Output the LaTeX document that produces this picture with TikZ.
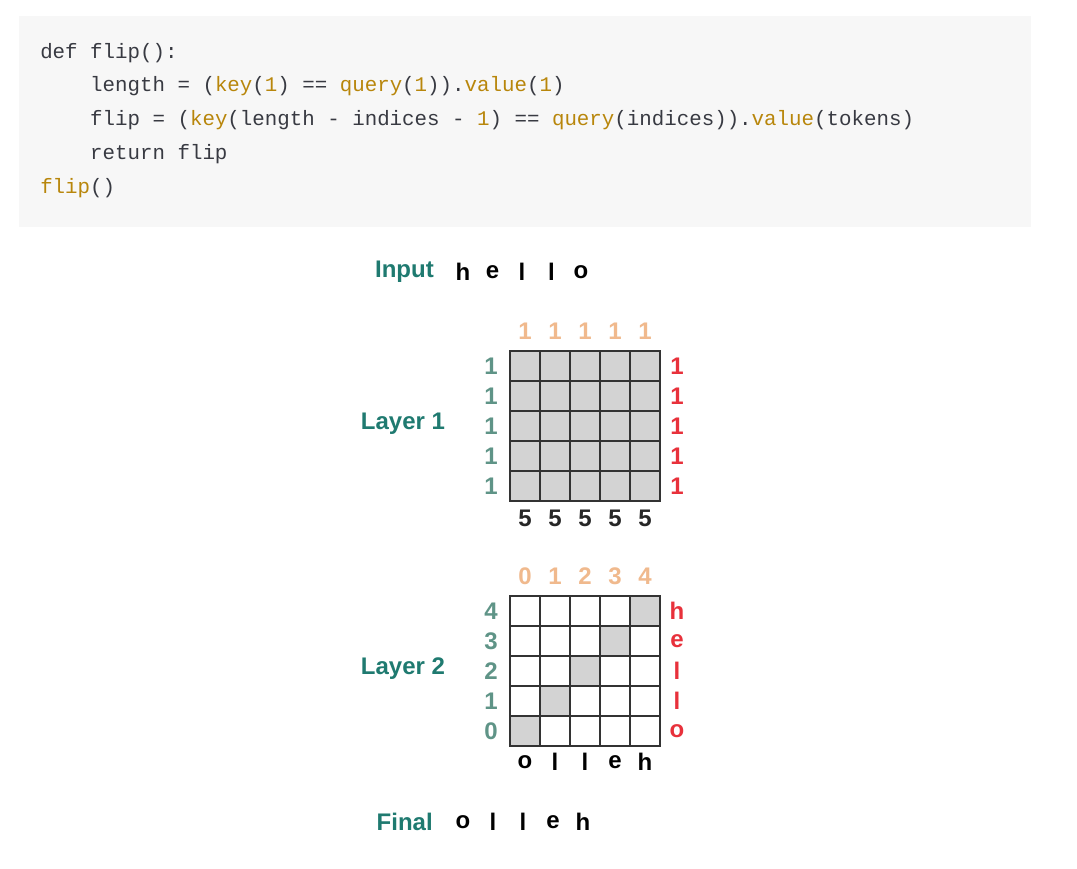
\documentclass[tikz,border=0pt]{standalone}
\usepackage{fontspec}
\setmainfont{Liberation Sans}
\setmonofont{Liberation Mono}
\begin{document}
\begin{tikzpicture}[x=0.75pt,y=-0.75pt,
  code/.style={anchor=base west,inner sep=0,font=\ttfamily\fontsize{15.6pt}{18pt}\selectfont,text=codegray},
  lab/.style={font=\bfseries\fontsize{18pt}{20pt}\selectfont,inner sep=0},
  tch/.style={lab,text=black},
  ttl/.style={lab,text=tealc}]
\definecolor{codegray}{HTML}{383A42}
\definecolor{gold}{HTML}{B8860B}
\definecolor{tealc}{HTML}{1F7A70}
\definecolor{lgreen}{HTML}{5F9487}
\definecolor{peach}{HTML}{F0B98D}
\definecolor{redc}{HTML}{E8313B}
\definecolor{cellg}{HTML}{D3D3D3}
\useasboundingbox (0,0) rectangle (1077,868);
\fill[white] (0,0) rectangle (1077,868);
\fill[black!3] (19,16) rectangle (1031,227);
\node[code] (c1) at (40,58) {def flip():};
\node[code] (c2) at (40,91) {\ \ \ \ length = (\textcolor{gold}{key}(\textcolor{gold}{1}) == \textcolor{gold}{query}(\textcolor{gold}{1})).\textcolor{gold}{value}(\textcolor{gold}{1})};
\node[code] (c3) at (40,125) {\ \ \ \ flip = (\textcolor{gold}{key}(length - indices - \textcolor{gold}{1}) == \textcolor{gold}{query}(indices)).\textcolor{gold}{value}(tokens)};
\node[code] (c4) at (40,159) {\ \ \ \ return flip};
\node[code] (c5) at (40,193) {\textcolor{gold}{flip}()};
% input
\node[ttl,anchor=east] (inl) at (434,272) {Input};
\foreach \c [count=\i from 0] in {h,e,l,l,o} \node[tch] (in\i) at (463+\i*29.5,272) {\c};
% layer 1
\node[ttl] (l1) at (403,424) {Layer 1};
\foreach \i in {0,...,4}{
  \foreach \j in {0,...,4} \draw[fill=cellg,draw=black!80,line width=0.9pt] (510+\i*30,351+\j*30) rectangle ++(30,30);
  \node[lab,text=peach] (t1\i) at (525+\i*30,331) {1};
  \node[lab,text=lgreen] (a1\i) at (491,366+\i*30) {1};
  \node[lab,text=redc] (r1\i) at (677,366+\i*30) {1};
  \node[lab,text=black!85] (b1\i) at (525+\i*30,518) {5};
}
% layer 2
\node[ttl] (l2) at (403,669) {Layer 2};
\foreach \i/\t/\r [count=\k from 0] in {0/4/h,1/3/e,2/2/l,3/1/l,4/0/o}{
  \foreach \j in {0,...,4}{
    \pgfmathsetmacro{\s}{(\i+\j==4)?1:0}
    \ifdim\s pt>0.5pt \def\fc{cellg}\else\def\fc{white}\fi
    \draw[fill=\fc,draw=black!80,line width=0.9pt] (510+\j*30,596+\i*30) rectangle ++(30,30);
  }
  \node[lab,text=peach] (t2\k) at (525+\i*30,576) {\i};
  \node[lab,text=lgreen] (a2\k) at (491,611+\i*30) {\t};
  \node[lab,text=redc] (r2\k) at (677,611+\i*30) {\r};
}
\foreach \c [count=\i from 0] in {o,l,l,e,h} \node[tch] (b2\i) at (525+\i*30,762) {\c};
% final
\node[ttl,anchor=east] (fin) at (433,822) {Final};
\foreach \c [count=\i from 0] in {o,l,l,e,h} \node[tch] (f\i) at (463+\i*30,822) {\c};
\end{tikzpicture}
\end{document}
